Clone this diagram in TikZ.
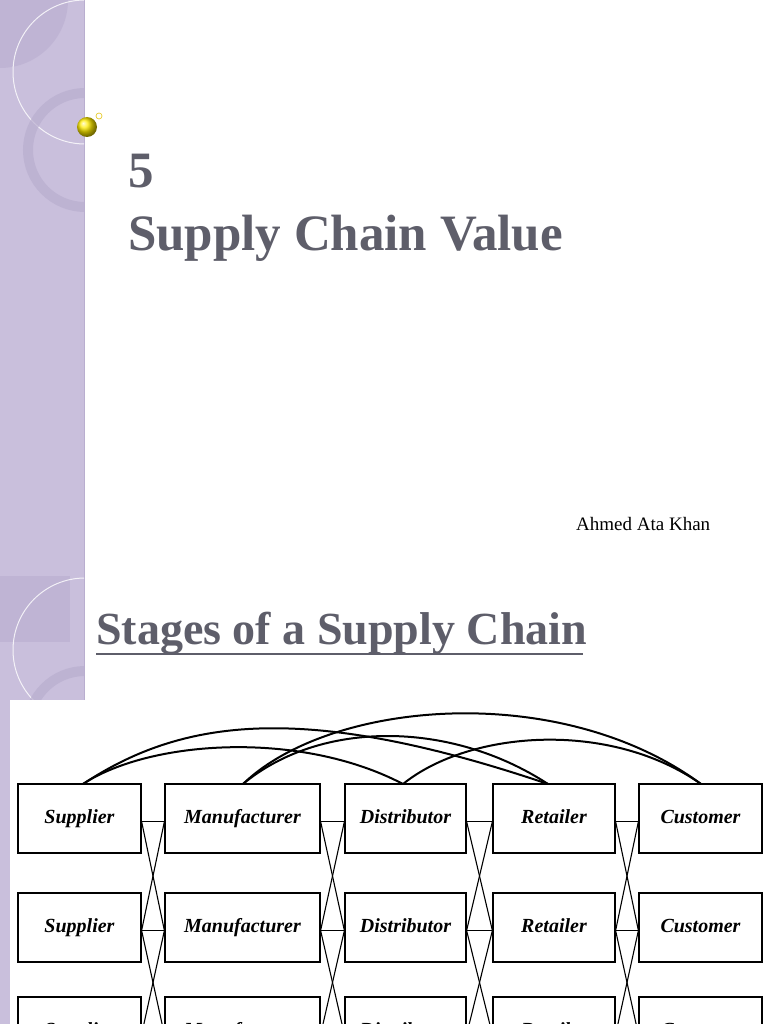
\documentclass[tikz,border=0pt]{standalone}
\usepackage{fontspec}
\setmainfont{Liberation Serif}
\definecolor{band}{HTML}{C9BFDC}
\definecolor{bandd}{HTML}{B9AECF}
\definecolor{ttl}{HTML}{5E5E6A}
\tikzset{box/.style={draw=black,line width=1.2pt,minimum width=123pt,minimum height=69pt,inner sep=0pt,text height=14pt,text depth=4pt,font=\fontsize{20}{20}\selectfont\bfseries\itshape},
 lnk/.style={line width=1.1pt},
 arc/.style={line width=2pt}}
\begin{document}
\begin{tikzpicture}[x=1pt,y=-1pt]
\useasboundingbox (0,0) rectangle (768,1024);
\clip (0,0) rectangle (768,1024);
% bands
\fill[band] (0,0) rectangle (84,576);
\fill[band] (0,576) rectangle (84,700);
\fill[band] (0,700) rectangle (10,1024);
\draw[bandd,line width=1pt] (84,0) -- (84,700);
\begin{scope}
\clip (0,0) rectangle (84,576);
\fill[bandd,opacity=0.6] (0,0) -- (68,0) arc[start angle=0,end angle=-90,x radius=68,y radius=-68] -- cycle;
\draw[white,opacity=0.8,line width=1pt] (85,72) circle[radius=72];
\draw[bandd,line width=10pt,opacity=0.7] (85,150) circle[radius=57];
\end{scope}
\begin{scope}
\clip (0,576) rectangle (84,700);
\fill[bandd,opacity=0.6] (0,576) rectangle (70,642);
\draw[white,opacity=0.8,line width=1pt] (85,650) circle[radius=72];
\draw[bandd,line width=10pt,opacity=0.7] (85,728) circle[radius=57];
\end{scope}
\shade[ball color=yellow!85!orange] (87,127) circle[radius=10];
\draw[yellow!60!brown,line width=0.7pt] (99,116) circle[radius=3];
% titles
\node[anchor=base west,inner sep=0pt,text=ttl,font=\fontsize{51}{51}\selectfont\bfseries] (five) at (128,188) {5};
\node[anchor=base west,inner sep=0pt,text=ttl,font=\fontsize{51}{51}\selectfont\bfseries] (title) at (128,250) {Supply Chain Value};
\node[anchor=base west,inner sep=0pt,font=\fontsize{19}{19}\selectfont] (auth) at (576,530) {Ahmed Ata Khan};
\node[anchor=base west,inner sep=0pt,text=ttl,font=\fontsize{46}{46}\selectfont\bfseries] (st) at (96,644) {Stages of a Supply Chain};
\draw[ttl,line width=2pt] (96,654) -- (583,654);
% diagram
\fill[white] (10,700) rectangle (768,1024);
\foreach \r/\y in {1/818.5,2/927.5,3/1031.5}{
 \node[box] (s\r) at (79.5,\y) {Supplier};
 \node[box,minimum width=155pt] (m\r) at (242.5,\y) {Manufacturer};
 \node[box,minimum width=121pt] (d\r) at (405.5,\y) {Distributor};
 \node[box,minimum width=122pt] (r\r) at (554,\y) {Retailer};
 \node[box] (c\r) at (700.5,\y) {Customer};
}
\foreach \a/\b in {s/m,m/d,d/r,r/c}{
 \foreach \r in {1,2,3}{\draw[lnk] ([yshift=-3pt]\a\r.east) -- ([yshift=-3pt]\b\r.west);}
 \foreach \r/\n in {1/2,2/3}{
  \draw[lnk] ([yshift=-3pt]\a\r.east) -- ([yshift=-3pt]\b\n.west);
  \draw[lnk] ([yshift=-3pt]\a\n.east) -- ([yshift=-3pt]\b\r.west);}
}
% arcs
\coordinate (sT) at (83,784); \coordinate (mT) at (243,784); \coordinate (dT) at (403,784);
\coordinate (rT) at (548,784); \coordinate (cT) at (701,784);
\draw[arc] (sT) .. controls (180,720) and (300,700) .. (rT);
\draw[arc] (sT) .. controls (150,740) and (300,730) .. (dT);
\draw[arc] (mT) .. controls (330,700) and (560,680) .. (cT);
\draw[arc] (mT) .. controls (320,720) and (450,720) .. (rT);
\draw[arc] (dT) .. controls (470,730) and (610,720) .. (cT);
\end{tikzpicture}
\end{document}
